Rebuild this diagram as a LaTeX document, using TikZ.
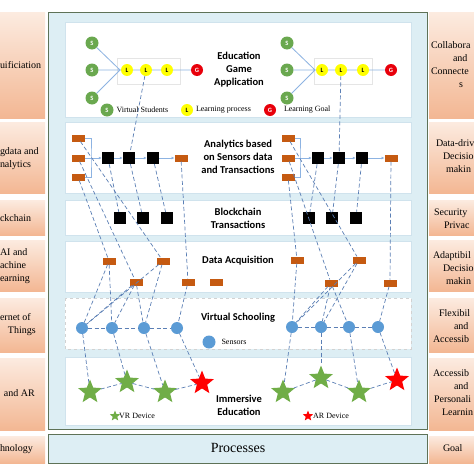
\documentclass[tikz,border=0pt]{standalone}
\usepackage{fontspec}
\setmainfont{Liberation Serif}
\newfontfamily\calib{Carlito}
\usetikzlibrary{arrows.meta,shapes.geometric,positioning}

\definecolor{bgblue}{HTML}{DDEEF4}
\definecolor{rimgreen}{HTML}{5E7257}
\definecolor{peachlo}{HTML}{FCEBE0}
\definecolor{peachhi}{HTML}{F3B793}
\definecolor{panelrim}{HTML}{D0E3ED}
\definecolor{sgreen}{HTML}{6AA84F}
\definecolor{lyellow}{HTML}{FFFF00}
\definecolor{gred}{HTML}{E8000B}
\definecolor{rust}{HTML}{C55A11}
\definecolor{sensorblue}{HTML}{5B9BD5}
\definecolor{stargreen}{HTML}{70AD47}
\definecolor{linkblue}{HTML}{5B7FB5}
\definecolor{flowblue}{HTML}{8DB3E2}

\newcommand{\ttl}{\calib\bfseries\fontsize{10.5}{13}\selectfont}
\newcommand{\lbl}{\fontsize{10}{13}\selectfont}
\newcommand{\keyfont}{\fontsize{8}{9}\selectfont}
\newcommand{\glyphfont}{\calib\bfseries\fontsize{6.5}{6.5}\selectfont}

\begin{document}
\begin{tikzpicture}[x=1pt, y=-1pt, every node/.style={inner sep=0pt, outer sep=0pt}, >={Latex[length=3pt,width=3pt]},
	side/.style={top color=peachlo, bottom color=peachhi},
	panel/.style={fill=white, draw=panelrim, line width=0.6pt},
	snode/.style={circle, fill=sgreen, minimum size=13pt, text=white, font=\glyphfont},
	lnode/.style={circle, fill=lyellow, minimum size=12pt, font=\glyphfont},
	gnode/.style={circle, fill=gred, minimum size=12pt, text=white, font=\glyphfont},
	packet/.style={rectangle, fill=rust, minimum width=13pt, minimum height=7pt},
	chainbox/.style={rectangle, fill=black, minimum size=12.5pt},
	sensornode/.style={circle, fill=sensorblue, minimum size=12pt},
	vrstar/.style={star, star points=5, star point ratio=2.3, fill=stargreen, minimum size=25pt},
	arstar/.style={vrstar, fill=red},
	link/.style={draw=linkblue, dash pattern=on 4pt off 2.5pt, line width=0.7pt},
	flow/.style={draw=flowblue, line width=0.8pt},
	keytxt/.style={font=\keyfont, right=3pt of #1}]
	\useasboundingbox (0,0) rectangle (474,474);
	\fill[white] (0,0) rectangle (474,474);
	% side columns
	\foreach \ya/\yb in {12/118, 122/193, 200/235, 240/291, 298/352, 358/430, 436/463} {
		\fill[side] (-5,\ya) rectangle (45,\yb);
		\fill[side] (429,\ya) rectangle (480,\yb);
	}
	\node[font=\lbl, anchor=west, align=left] (gamL) at (0,65) {uificiation};
	\node[font=\lbl, anchor=west, align=left] (bigL) at (0,158.5) {gdata and\\nalytics};
	\node[font=\lbl, anchor=west, align=left] (blkL) at (0,218) {ckchain};
	\node[font=\lbl, anchor=west, align=left] (aiL) at (0,266) {AI and\\achine\\earning};
	\node[font=\lbl, anchor=west, align=left] (iotL) at (0,324.5) {ernet of\\\hspace*{8pt}Things};
	\node[font=\lbl, anchor=west, align=left] (arL) at (4,393) {and AR};
	\node[font=\lbl, anchor=west, align=left] (techL) at (0,449) {hnology};
	\node[font=\lbl, anchor=west, align=left] (colR) at (431,64.5) {Collabora\\\hspace*{22pt}and\\Connecte\\\hspace*{28pt}s};
	\node[font=\lbl, anchor=west, align=left] (dataR) at (436,156) {Data-driv\\\hspace*{7pt}Decisio\\\hspace*{10pt}makin};
	\node[font=\lbl, anchor=west, align=left] (secR) at (434,219) {Security\\\hspace*{10pt}Privac};
	\node[font=\lbl, anchor=west, align=left] (adaR) at (433,268) {Adaptibil\\\hspace*{10pt}Decisio\\\hspace*{13pt}makin};
	\node[font=\lbl, anchor=west, align=left] (flexR) at (433,326) {\hspace*{6pt}Flexibil\\\hspace*{21pt}and\\Accessib};
	\node[font=\lbl, anchor=west, align=left] (accR) at (433,392.5) {Accessib\\\hspace*{21pt}and\\\hspace*{1pt}Personali\\\hspace*{9pt}Learnin};
	\node[font=\lbl, anchor=west, align=left] (goalR) at (443,448) {Goal};
	% frame and panels
	\draw[fill=bgblue, draw=rimgreen, line width=1pt] (48,12) rectangle (427,429);
	\draw[fill=bgblue, draw=rimgreen, line width=1pt] (48,434) rectangle (427,463);
	\draw[panel] (65,22) rectangle (411,117);
	\draw[panel] (65,122) rectangle (411,193);
	\draw[panel] (65,200) rectangle (411,235);
	\draw[panel] (65,241) rectangle (411,292);
	\draw[panel, draw=gray!35, dashed] (65,298) rectangle (411,349);
	\draw[panel] (65,357) rectangle (411,425);
	\node[font=\fontsize{14}{16}\selectfont] (proc) at (238,448) {Processes};

	% education game application
	\draw[fill=white, draw=gray!20] (117,58) rectangle (180,84);
	\draw[fill=white, draw=gray!20] (314,58) rectangle (372,84);
	\coordinate (jA) at (120,70);
	\coordinate (jB) at (315,70);
	\node[snode] (sA1) at (92,43) {S};
	\node[snode] (sA2) at (92,70) {S};
	\node[snode] (sA3) at (92,98) {S};
	\node[lnode] (lA1) at (127,70) {L};
	\node[lnode] (lA2) at (146,70) {L};
	\node[lnode] (lA3) at (167,70) {L};
	\node[gnode] (gA) at (197,70) {G};
	\node[snode] (sB1) at (287,43) {S};
	\node[snode] (sB2) at (287,70) {S};
	\node[snode] (sB3) at (287,98) {S};
	\node[lnode] (lB1) at (322,70) {L};
	\node[lnode] (lB2) at (341,70) {L};
	\node[lnode] (lB3) at (363,70) {L};
	\node[gnode] (gB) at (391,70) {G};
	\draw[flow] (sA1) -- (jA) (sA2) -- (jA) (sA3) -- (jA) -- (lA1) -- (lA2) -- (lA3) -- (gA);
	\draw[flow] (sB1) -- (jB) (sB2) -- (jB) (sB3) -- (jB) -- (lB1) -- (lB2) -- (lB3) -- (gB);
	\node[font=\ttl, align=center] (edu) at (239,70) {Education\\Game\\Application};
	\node[snode] (sKey) at (107,110) {S};
	\node[keytxt=sKey] (sKeyT) {Virtual Students};
	\node[lnode] (lKey) at (187,110) {L};
	\node[keytxt=lKey] (lKeyT) {Learning process};
	\node[gnode] (gKey) at (270,110) {G};
	\node[keytxt=gKey, right=8pt of gKey] (gKeyT) {Learning Goal};

	% analytics
	\node[packet] (oA1) at (78,138) {};
	\node[packet] (oA2) at (78,158) {};
	\node[packet] (oA3) at (78,177) {};
	\coordinate (kA) at (91,158);
	\node[chainbox] (bA1) at (108,158) {};
	\node[chainbox] (bA2) at (129,158) {};
	\node[chainbox] (bA3) at (153,158) {};
	\node[packet] (oA4) at (181,158) {};
	\node[packet] (oB1) at (288,138) {};
	\node[packet] (oB2) at (288,158) {};
	\node[packet] (oB3) at (288,177) {};
	\coordinate (kB) at (300,158);
	\node[chainbox] (bB1) at (318,158) {};
	\node[chainbox] (bB2) at (339,158) {};
	\node[chainbox] (bB3) at (362,158) {};
	\node[packet] (oB4) at (391,158) {};
	\draw[flow] (oA1) -| (kA) |- (oA3);
	\draw[flow] (oB1) -| (kB) |- (oB3);
	\draw[flow, ->] (oA2) -- (bA1);
	\draw[flow, ->] (bA1) -- (bA2);
	\draw[flow, ->] (bA2) -- (bA3);
	\draw[flow, ->] (bA3) -- (oA4);
	\draw[flow, ->] (oB2) -- (bB1);
	\draw[flow, ->] (bB1) -- (bB2);
	\draw[flow, ->] (bB2) -- (bB3);
	\draw[flow, ->] (bB3) -- (oB4);
	\node[font=\ttl, align=center] (ana) at (238,157) {Analytics based\\on Sensors data\\and Transactions};

	% blockchain
	\node[chainbox] (cA1) at (120,218) {};
	\node[chainbox] (cA2) at (143,218) {};
	\node[chainbox] (cA3) at (167,218) {};
	\node[chainbox] (cB1) at (309,218) {};
	\node[chainbox] (cB2) at (332,218) {};
	\node[chainbox] (cB3) at (356,218) {};
	\node[font=\ttl, align=center] (blk) at (238,218) {Blockchain\\Transactions};

	% data acquisition
	\node[packet] (dA1) at (109,261) {};
	\node[packet] (dA2) at (163,261) {};
	\node[packet] (dA3) at (136,282) {};
	\node[packet] (dA4) at (188,282) {};
	\node[packet] (dA5) at (216,282) {};
	\node[packet] (dB1) at (297,260) {};
	\node[packet] (dB2) at (359,260) {};
	\node[packet] (dB3) at (331,283) {};
	\node[packet] (dB4) at (390,283) {};
	\node[font=\ttl] (acq) at (238,261) {Data Acquisition};

	% virtual schooling
	\node[sensornode] (vA1) at (82,328) {};
	\node[sensornode] (vA2) at (112,328) {};
	\node[sensornode] (vA3) at (144,328) {};
	\node[sensornode] (vA4) at (177,328) {};
	\node[sensornode] (vB1) at (292,327) {};
	\node[sensornode] (vB2) at (321,327) {};
	\node[sensornode] (vB3) at (349,327) {};
	\node[sensornode] (vB4) at (378,327) {};
	\node[font=\ttl] (vsch) at (238,318) {Virtual Schooling};
	\node[sensornode, minimum size=13pt] (vKey) at (209,342) {};
	\node[keytxt=vKey, right=6pt of vKey] (vKeyT) {Sensors};

	% immersive education
	\node[vrstar] (eA1) at (90,392) {};
	\node[vrstar] (eA2) at (127,382) {};
	\node[vrstar] (eA3) at (165,392) {};
	\node[arstar] (eA4) at (202,383) {};
	\node[vrstar] (eB1) at (283,392) {};
	\node[vrstar] (eB2) at (321,378) {};
	\node[vrstar] (eB3) at (359,392) {};
	\node[arstar] (eB4) at (397,380) {};
	\node[font=\ttl, align=center] (imm) at (239,405) {Immersive\\Education};
	\node[vrstar, minimum size=11pt] (eKeyA) at (115,416) {};
	\node[keytxt=eKeyA, right=1pt of eKeyA] (eKeyAT) {VR Device};
	\node[arstar, minimum size=11pt] (eKeyB) at (308,416) {};
	\node[keytxt=eKeyB, right=2pt of eKeyB] (eKeyBT) {AR Device};

	% dashed links
	\draw[link] (lA2) -- (bA2);
	\draw[link] (lB2) -- (bB2);
	\draw[link] (oA1) -- (dA2);
	\draw[link] (oA2) -- (dA3);
	\draw[link] (oA3) -- (dA1);
	\draw[link] (bA1) -- (cA1);
	\draw[link] (bA2) -- (cA2);
	\draw[link] (bA3) -- (cA3);
	\draw[link] (oA4) -- (dA4);
	\draw[link] (oB1) -- (dB2);
	\draw[link] (oB2) -- (dB3);
	\draw[link] (oB3) -- (dB1);
	\draw[link] (bB1) -- (cB1);
	\draw[link] (bB2) -- (cB2);
	\draw[link] (bB3) -- (cB3);
	\draw[link] (oB4) -- (dB4);
	\draw[link] (dA1) -- (vA1);
	\draw[link] (dA1) -- (vA2);
	\draw[link] (dA3) -- (vA1);
	\draw[link] (dA3) -- (vA2);
	\draw[link] (dA3) -- (vA3);
	\draw[link] (dA2) -- (vA1);
	\draw[link] (dA2) -- (vA3);
	\draw[link] (dA4) -- (vA4);
	\draw[link] (dB1) -- (vB1);
	\draw[link] (dB2) -- (vB1);
	\draw[link] (dB2) -- (vB2);
	\draw[link] (dB3) -- (vB1);
	\draw[link] (dB3) -- (vB2);
	\draw[link] (dB3) -- (vB3);
	\draw[link] (dB4) -- (vB4);
	\draw[link] (vA1) -- (vA2) -- (vA3) -- (vA4);
	\draw[link] (vB1) -- (vB2) -- (vB3) -- (vB4);
	\draw[link] (vA1) -- (eA1);
	\draw[link] (vA2) -- (eA2);
	\draw[link] (vA3) -- (eA3);
	\draw[link] (vA4) -- (eA4);
	\draw[link] (vB1) -- (eB1);
	\draw[link] (vB2) -- (eB2);
	\draw[link] (vB3) -- (eB3);
	\draw[link] (vB4) -- (eB4);
	\draw[link] (eA1) -- (eA2) -- (eA3) -- (eA4);
	\draw[link] (eB1) -- (eB2) -- (eB3) -- (eB4);
\end{tikzpicture}
\end{document}
